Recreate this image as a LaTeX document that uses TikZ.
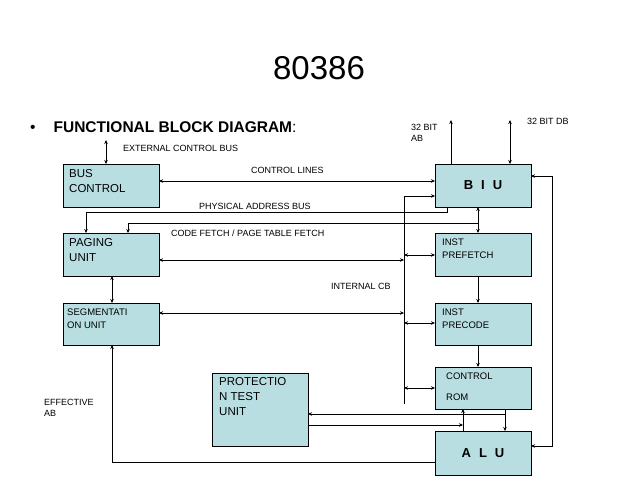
\documentclass[tikz,border=0pt]{standalone}
\usepackage{fontspec}
\setmainfont{Liberation Sans}
\usetikzlibrary{arrows.meta}
\definecolor{boxc}{RGB}{185,222,226}
\begin{document}
\begin{tikzpicture}[x=1pt,y=-1pt,
  blk/.style={draw=black,fill=boxc,line width=0.8pt,inner sep=0pt},
  txt/.style={font=\fontsize{11.5}{15}\selectfont,align=left,anchor=north west,inner sep=0pt},
  stxt/.style={font=\fontsize{9.5}{13}\selectfont,align=left,anchor=north west,inner sep=0pt},
  lbl/.style={font=\fontsize{9}{11}\selectfont,inner sep=0pt,align=left},
  ln/.style={line width=0.6pt},
  a/.style={-{Stealth[length=4pt,width=3.5pt]}},
  aa/.style={{Stealth[length=4pt,width=3.5pt]}-{Stealth[length=4pt,width=3.5pt]}}]
\useasboundingbox (0,0) rectangle (638,479);
\node (title) at (319,68) {\fontsize{33}{38}\selectfont 80386};
\node[anchor=west,inner sep=0pt] (head) at (30,127) {\fontsize{15.5}{18}\selectfont •\hspace{18pt}\textbf{FUNCTIONAL BLOCK DIAGRAM}:};
% boxes
\path[blk] (63,164) rectangle (159,207); \node[txt] (bus) at (69,169) {BUS\\CONTROL};
\path[blk] (435,164) rectangle (531,207); \node[font=\fontsize{13}{15}\selectfont\bfseries] (biu) at (483,185) {B\hspace{8pt}I\hspace{8pt}U};
\path[blk] (63,233) rectangle (159,276); \node[txt] (pag) at (69,238) {PAGING\\UNIT};
\path[blk] (435,233) rectangle (531,276); \node[stxt] (pre) at (442,239) {INST\\PREFETCH};
\path[blk] (63,303) rectangle (159,345); \node[stxt] (seg) at (67,309) {SEGMENTATI\\ON UNIT};
\path[blk] (435,303) rectangle (531,345); \node[stxt] (prc) at (442,309) {INST\\PRECODE};
\path[blk] (435,367) rectangle (531,409); \node[stxt] (rom) at (446,373) {CONTROL};
\node[stxt] (rom2) at (446,394) {ROM};
\path[blk] (212,373) rectangle (308,446); \node[txt] (pro) at (219,377) {PROTECTIO\\N TEST\\UNIT};
\path[blk] (435,431) rectangle (531,475); \node[font=\fontsize{13}{15}\selectfont\bfseries] (alu) at (483,453) {A\hspace{8pt}L\hspace{8pt}U};
% labels
\node[lbl,anchor=west] (l1) at (123,148) {EXTERNAL CONTROL BUS};
\node[lbl,anchor=west] (l2) at (251,170) {CONTROL LINES};
\node[lbl,anchor=west] (l3) at (199,206) {PHYSICAL ADDRESS BUS};
\node[lbl,anchor=west] (l4) at (171,233) {CODE FETCH / PAGE TABLE FETCH};
\node[lbl,anchor=west] (l5) at (331,286) {INTERNAL CB};
\node[lbl,anchor=north west] (l6) at (411,124) {32 BIT\\AB};
\node[lbl,anchor=west] (l7) at (527,121) {32 BIT DB};
\node[lbl,anchor=north west] (l8) at (44,399) {EFFECTIVE\\AB};
% connectors
\coordinate (e1) at (106,140); \draw[ln,aa] (e1) -- (106,164);
\coordinate (ab) at (451,120); \draw[ln,a] (451,164) -- (ab);
\coordinate (db) at (510,120); \draw[ln,aa] (db) -- (510,164);
\draw[ln,aa] (159,181) -- (435,181);
\draw[ln,a] (447,207) -- (447,212) -- (86,212) -- (86,233);
\draw[ln,aa] (478,207) -- (478,233);
\draw[ln,a] (478,223) -- (128,223) -- (128,233);
\draw[ln,a] (404,404) -- (404,196) -- (435,196);
\draw[ln,aa] (404,255) -- (435,255);
\draw[ln,aa] (159,260) -- (404,260);
\draw[ln,aa] (159,313) -- (404,313);
\draw[ln,aa] (404,323) -- (435,323);
\draw[ln,aa] (404,388) -- (435,388);
\draw[ln,aa] (112,276) -- (112,303);
\draw[ln,a] (478,276) -- (478,303);
\draw[ln,a] (478,345) -- (478,367);
\draw[ln,a] (505,409) -- (505,431);
\draw[ln,a] (505,414) -- (308,414);
\draw[ln,a] (308,425) -- (463,425);
\draw[ln,a] (463,431) -- (463,409);
\draw[ln,a] (435,462) -- (112,462) -- (112,345);
\draw[ln,aa] (531,176) -- (552,176) -- (552,446) -- (531,446);
\end{tikzpicture}
\end{document}
